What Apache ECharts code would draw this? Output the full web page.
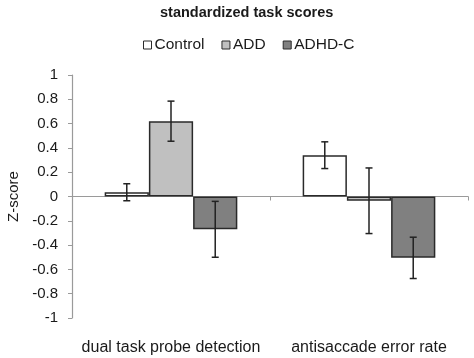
<!DOCTYPE html>
<html><head><meta charset="utf-8">
<script src="https://cdn.jsdelivr.net/npm/echarts@6/dist/echarts.min.js"></script>
<style>html,body{margin:0;padding:0;background:#fff}#c{width:474px;height:358px}</style>
</head><body><div id="c"></div>
<script>
var categories = ['dual task probe detection', 'antisaccade error rate'];
var seriesNames = ['Control', 'ADD', 'ADHD-C'];
var controlVals = [0.035, 0.34];
var addVals = [0.62, -0.035];
var adhdVals = [-0.27, -0.505];
var controlErr = [0.07, 0.11];
var addErr = [0.165, 0.27];
var adhdErr = [0.23, 0.17];
var yTicks = { min: -1, max: 1, interval: 0.2 };
var colors = ['#ffffff', '#c0c0c0', '#808080'];

var values = [controlVals, addVals, adhdVals];
var errs = [controlErr, addErr, adhdErr];
var gapFrac = 0.33;

var chart = echarts.init(document.getElementById('c'));
var series = [];
values.forEach(function (vals, si) {
  series.push({
    name: seriesNames[si], type: 'bar', data: vals,
    barGap: '0%', barCategoryGap: '33%',
    itemStyle: { color: colors[si], borderColor: '#2a2a2a', borderWidth: 1.5 },
    emphasis: { disabled: true }
  });
});
values.forEach(function (vals, si) {
  series.push({
    type: 'custom', silent: true, z: 5,
    data: vals.map(function (v, i) { return [i, v - errs[si][i], v + errs[si][i]]; }),
    renderItem: function (params, api) {
      var band = api.size([1, 0])[0];
      var bw = band * (1 - gapFrac) / 3;
      var off = (si - 1) * bw;
      var lo = api.coord([api.value(0), api.value(1)]);
      var hi = api.coord([api.value(0), api.value(2)]);
      var x = lo[0] + off;
      var cw = 3.5;
      var st = { stroke: '#222', lineWidth: 1.5 };
      return { type: 'group', children: [
        { type: 'line', shape: { x1: x, y1: lo[1], x2: x, y2: hi[1] }, style: st },
        { type: 'line', shape: { x1: x - cw, y1: lo[1], x2: x + cw, y2: lo[1] }, style: st },
        { type: 'line', shape: { x1: x - cw, y1: hi[1], x2: x + cw, y2: hi[1] }, style: st }
      ]};
    }
  });
});

chart.setOption({
  animation: false,
  title: { text: 'standardized task scores', left: 155, top: 0,
    textStyle: { fontFamily: 'Liberation Sans, Arial', fontSize: 14.5, fontWeight: 'bold', color: '#1a1a1a' } },
  legend: { data: seriesNames, top: 32, left: 138, icon: 'rect', itemWidth: 8, itemHeight: 8, itemGap: 17,
    itemStyle: { borderColor: '#2a2a2a', borderWidth: 1 },
    textStyle: { fontFamily: 'Liberation Sans, Arial', fontSize: 15.5, color: '#1a1a1a', padding: [0, 0, 0, -2] } },
  grid: { left: 72, right: 6, top: 75, bottom: 40, containLabel: false, outerBoundsMode: 'none' },
  xAxis: [{
    type: 'category', data: categories,
    axisLine: { onZero: true, lineStyle: { color: '#9a9a9a', width: 1.2 } },
    axisTick: { show: true, length: 4, lineStyle: { color: '#9a9a9a' } },
    axisLabel: { show: false }
  }, {
    type: 'category', data: categories, position: 'bottom',
    axisLine: { show: false, onZero: false }, axisTick: { show: false },
    axisLabel: { interval: 0, margin: 22, fontFamily: 'Liberation Sans, Arial', fontSize: 16, color: '#1a1a1a' }
  }],
  yAxis: {
    type: 'value', min: yTicks.min, max: yTicks.max, interval: yTicks.interval,
    name: 'Z-score', nameLocation: 'middle', nameGap: 51,
    nameTextStyle: { fontFamily: 'Liberation Sans, Arial', fontSize: 15, color: '#1a1a1a' },
    axisLine: { show: true, lineStyle: { color: '#9a9a9a', width: 1.2 } },
    axisTick: { show: true, length: 4, lineStyle: { color: '#9a9a9a' } },
    splitLine: { show: false },
    axisLabel: { margin: 14, fontFamily: 'Liberation Sans, Arial', fontSize: 15, color: '#1a1a1a',
      formatter: function (v) { return String(Math.round(v * 10) / 10); } }
  },
  series: series
});
</script></body></html>
